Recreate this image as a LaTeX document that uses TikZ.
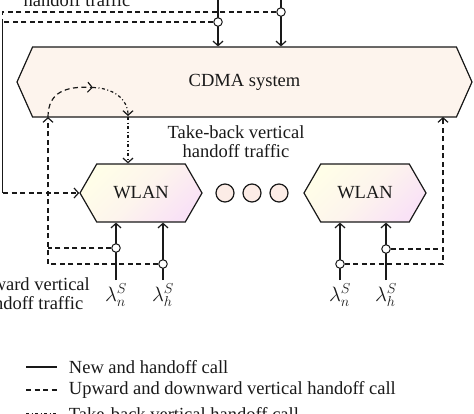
\documentclass[tikz,border=0pt]{standalone}
\usepackage{fontspec}
\setmainfont{Liberation Serif}
\usetikzlibrary{arrows.meta, positioning, shapes.symbols}
\definecolor{cdmafill}{RGB}{253,244,237}
\definecolor{wlanyellow}{RGB}{255,254,232}
\definecolor{wlanpink}{RGB}{249,226,246}
\definecolor{dotfill}{RGB}{252,236,230}
\definecolor{ink}{RGB}{25,25,25}

\begin{document}
\begin{tikzpicture}[x=1pt, y=-1pt, line width=1.2pt, color=ink,
    every node/.style={font=\fontsize{18.5}{19}\selectfont},
    hexa/.style={signal, signal to=west and east, draw, inner sep=0pt},
    wlan/.style={hexa, top color=wlanyellow, bottom color=wlanpink,
      middle color=wlanyellow!65!wlanpink, shading angle=45,
      minimum width=122, minimum height=58, signal pointer angle=120},
    tap/.style={circle, draw, fill=white, line width=1pt, inner sep=0pt, minimum size=8.5pt},
    vho/.style={dash pattern=on 5pt off 3.5pt},
    takeback/.style={dash pattern=on 3pt off 2.5pt on 1pt off 2.5pt},
    tip/.style={-{Straight Barb[length=4.5pt, width=10pt]}}]
  \useasboundingbox (0,0) rectangle (474,413);

  % systems
  \node[hexa, fill=cdmafill, minimum width=455, minimum height=70,
    signal pointer angle=132] (cdma) at (244.5,82) {CDMA system};
  \node[wlan] (wlanA) at (141,193) {WLAN};
  \node[wlan] (wlanB) at (365,193) {WLAN};
  \foreach \x/\n in {225/1, 252/2, 279/3}
    \node[circle, draw, fill=dotfill, minimum size=18, inner sep=0pt] (more\n) at (\x,193) {};

  % new and handoff calls into CDMA
  \coordinate (srcA) at (218,-6);
  \coordinate (srcB) at (281,-6);
  \draw[tip] (srcA) -- (srcA |- cdma.north);
  \draw[tip] (srcB) -- (srcB |- cdma.north);
  \node[tap] (tapA) at (218,22) {};
  \node[tap] (tapB) at (281,12) {};

  % downward vertical handoff
  \draw[vho] (tapB.west) -| (2.5,193);
  \draw[vho, tip] (tapA.west) -- (2.5,22) |- (wlanA.west);

  % new and handoff calls into the WLANs
  \foreach \w/\x/\s in {A/116/n, A/163/h, B/340/n, B/386/h} {
    \coordinate (in\w\s) at (\x,280);
    \node[below=0pt of in\w\s, font=\fontsize{20}{20}\selectfont] (lam\w\s) {$\lambda_\s^S$};
    \draw[tip] (in\w\s) -- (in\w\s |- wlan\w.south);
  }
  \node[tap] (tapAn) at (116,248) {};
  \node[tap] (tapAh) at (163,264) {};
  \node[tap] (tapBn) at (340,264) {};
  \node[tap] (tapBh) at (386,249) {};

  % upward vertical handoff
  \coordinate (upA) at (48,117);
  \coordinate (upB) at (443,117);
  \draw[vho] (tapAn.west) -- (48,248);
  \draw[vho, tip] (tapAh.west) -| (upA);
  \draw[vho] (tapBh.east) -- (443,249);
  \draw[vho, tip] (tapBn.east) -| (upB);

  % take-back
  \draw[vho, tip] (upA) .. controls (48,92) and (66,86) .. (93,87.5) coordinate (turn);
  \draw[takeback, tip] (turn) .. controls (113,88) and (128,99) .. (128,116) coordinate (tbA);
  \coordinate (tbB) at (128,117);
  \draw[takeback, tip] (tbB) -- (tbB |- wlanA.north);

  % labels
  \node[align=center] (downtxt) at (77,-9) {Downward vertical\\handoff traffic};
  \node[align=center] (uptxt) at (30,294) {Upward vertical\\handoff traffic};
  \node[align=center] (tbtxt) at (236,142) {Take-back vertical\\handoff traffic};

  % legend
  \coordinate (keyA) at (26,367);
  \coordinate (keyB) at (26,390);
  \coordinate (keyC) at (26,414);
  \draw (keyA) -- ++(31,0) node[right=8pt] (keyAtxt) {New and handoff call};
  \draw[vho] (keyB) -- ++(31,0) node[right=8pt] (keyBtxt) {Upward and downward vertical handoff call};
  \draw[takeback] (keyC) -- ++(31,0) node[right=8pt] (keyCtxt) {Take-back vertical handoff call};
\end{tikzpicture}
\end{document}
